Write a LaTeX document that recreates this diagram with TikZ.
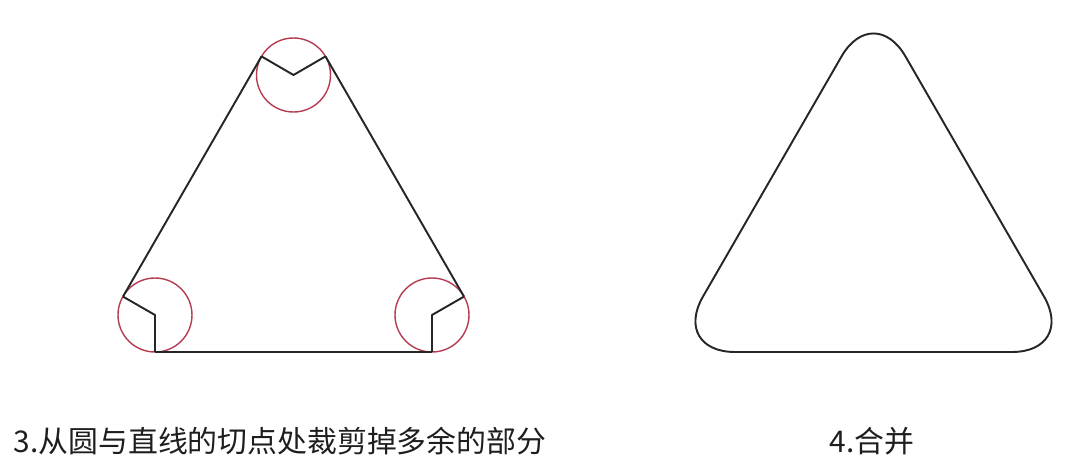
\documentclass[tikz,border=0pt]{standalone}
\usepackage{fontspec}
\newfontfamily\cjk{Noto Sans CJK SC}
\usepackage{tikz}
\usetikzlibrary{calc}

\definecolor{cutred}{RGB}{180,60,80}
\definecolor{captiongray}{RGB}{30,30,30}

\begin{document}
\begin{tikzpicture}[x=0.02cm, y=-0.02cm, line join=round,
    edge/.style={draw=black!85, line width=1.1pt},
    helper/.style={draw=cutred, line width=0.8pt},
    caption/.style={text=captiongray, font=\cjk\fontsize{17}{20}\selectfont, inner sep=0pt}]
	\useasboundingbox (0,0) rectangle (1080,476);
	% step 3: circles at the corners, lines cut at the tangent points
	\coordinate (tc) at (293.5,75); \coordinate (lc) at (155,315); \coordinate (rc) at (432,315);
	\draw[helper] (tc) circle (37); \draw[helper] (lc) circle (37); \draw[helper] (rc) circle (37);
	\draw[edge] (155,352) -- (432,352);
	\draw[edge] (123,296.6) -- (261.5,56.4); \draw[edge] (325.5,56.4) -- (464,296.6);
	\draw[edge] (261.5,56.4) -- (tc) -- (325.5,56.4);
	\draw[edge] (155,352) -- (lc) -- (123,296.6);
	\draw[edge] (432,352) -- (rc) -- (464,296.6);
	\node[caption] (cap3) at (280,441) {3.从圆与直线的切点处裁剪掉多余的部分};

	% step 4: merged outline
	\draw[edge, rounded corners=1.28cm] (873.5,352) -- (671,352) -- (873.5,1) -- (1076,352) -- cycle;
	\node[caption] (cap4) at (872,441) {4.合并};
\end{tikzpicture}
\end{document}
